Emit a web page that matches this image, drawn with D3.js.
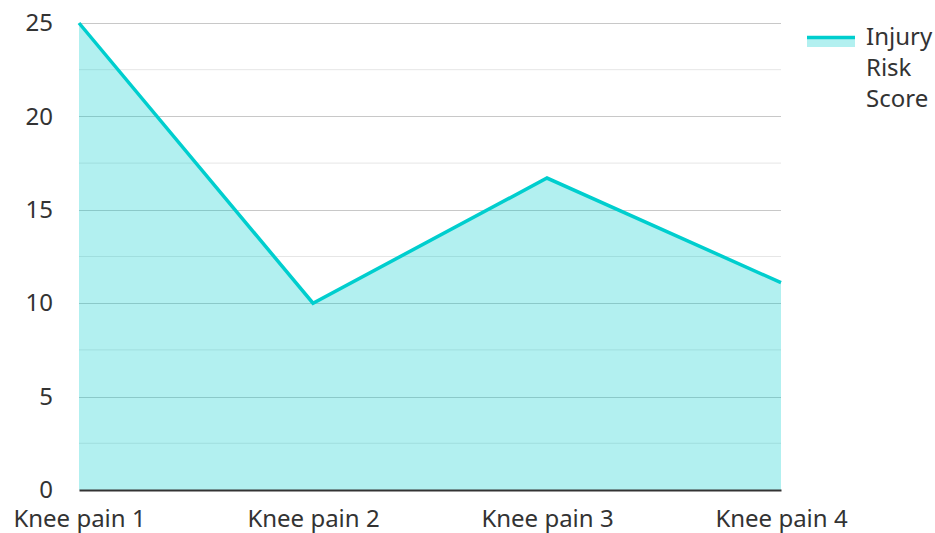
<!DOCTYPE html>
<html>
<head>
<meta charset="utf-8">
<script src="https://cdn.jsdelivr.net/npm/d3@7"></script>
<style>
  body { margin: 0; background: #fff; font-family: "Noto Sans", sans-serif; }
</style>
</head>
<body>
<div id="chart"></div>
<script>
const categories = ["Knee pain 1", "Knee pain 2", "Knee pain 3", "Knee pain 4"];
const riskScores = [25, 10, 16.7, 11.1];
const seriesName = ["Injury", "Risk", "Score"];
const yTicks = [0, 5, 10, 15, 20, 25];

const W = 935, H = 533;
const margin = {top: 23, right: 154, bottom: 43, left: 79};
const width = W - margin.left - margin.right,
      height = H - margin.top - margin.bottom;
const lineColor = "#00cece";
const fontSize = "24px";

const svg = d3.select("#chart").append("svg")
    .attr("width", W).attr("height", H)
  .append("g")
    .attr("transform", "translate(" + margin.left + "," + margin.top + ")");

const x = d3.scalePoint().domain(categories).range([0, width]);
const y = d3.scaleLinear().domain([0, 25]).range([height, 0]);

// minor grid
svg.append("g").selectAll("line")
  .data(d3.range(2.5, 25, 5))
  .enter().append("line")
    .attr("x1", 0).attr("x2", width)
    .attr("y1", d => y(d)).attr("y2", d => y(d))
    .style("stroke", "#e6e6e6").style("stroke-width", 1);

// major grid
svg.append("g").selectAll("line")
  .data(yTicks.filter(d => d > 0))
  .enter().append("line")
    .attr("x1", 0).attr("x2", width)
    .attr("y1", d => Math.round(y(d)) + 0.5).attr("y2", d => Math.round(y(d)) + 0.5)
    .style("stroke", "#c8c8c8").style("stroke-width", 1);

const data = categories.map((c, i) => ({cat: c, value: riskScores[i]}));

svg.append("path")
  .datum(data)
  .attr("d", d3.area().x(d => x(d.cat)).y0(y(0)).y1(d => y(d.value)))
  .style("fill", lineColor).style("fill-opacity", 0.3);

svg.append("path")
  .datum(data)
  .attr("d", d3.line().x(d => x(d.cat)).y(d => y(d.value)))
  .style("fill", "none").style("stroke", lineColor).style("stroke-width", 3.5)
  .style("stroke-linejoin", "miter");

// x axis
const xAxis = svg.append("g")
  .attr("transform", "translate(0," + height + ")")
  .call(d3.axisBottom(x).tickSize(0).tickPadding(20));
xAxis.select(".domain").style("stroke", "#333").style("stroke-width", 2);
xAxis.selectAll("text").style("font-family", "Noto Sans").style("font-size", fontSize).style("fill", "#333");

// y axis
const yAxis = svg.append("g")
  .call(d3.axisLeft(y).tickValues(yTicks).tickSize(0).tickPadding(26));
yAxis.select(".domain").remove();
yAxis.selectAll("text").style("font-family", "Noto Sans").style("font-size", fontSize).style("fill", "#333");

// legend
const legend = svg.append("g")
  .attr("transform", "translate(" + (width + 26) + ",0)");
legend.append("rect")
  .attr("x", 0).attr("y", 13).attr("width", 48).attr("height", 11)
  .style("fill", lineColor).style("fill-opacity", 0.3);
legend.append("line")
  .attr("x1", 0).attr("x2", 48).attr("y1", 14.5).attr("y2", 14.5)
  .style("stroke", lineColor).style("stroke-width", 3.5);
legend.selectAll("text")
  .data(seriesName)
  .enter().append("text")
    .attr("x", 59).attr("y", (d, i) => 14 + i * 31)
    .attr("dy", "0.35em")
    .style("font-family", "Noto Sans").style("font-size", fontSize).style("fill", "#333")
    .text(d => d);
</script>
</body>
</html>
